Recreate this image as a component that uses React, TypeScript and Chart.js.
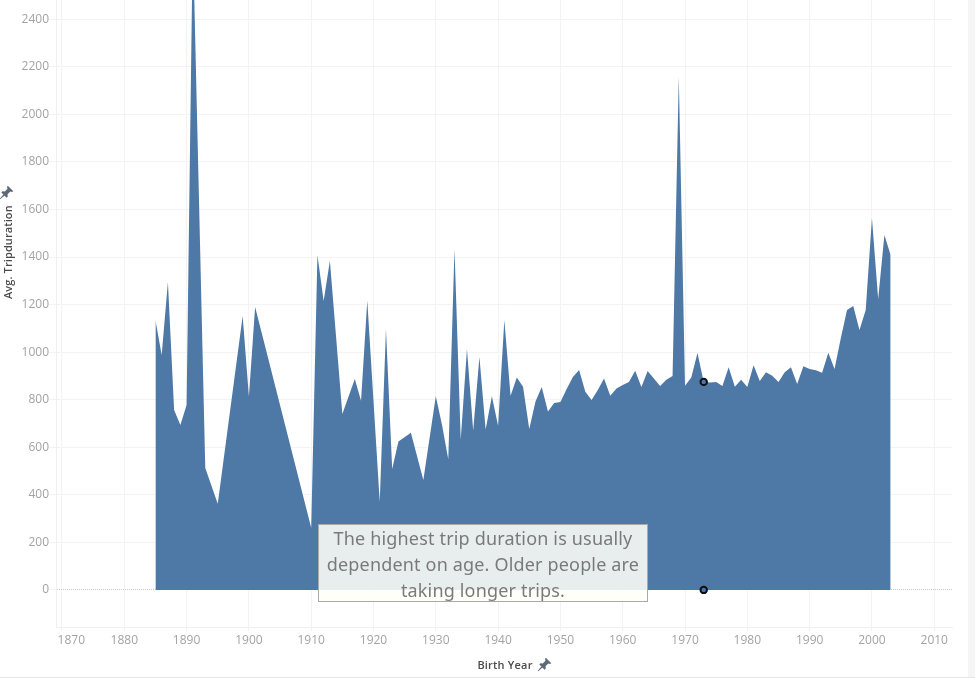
import React, { useEffect, useRef } from 'react';
import { Chart, registerables } from 'chart.js';

Chart.register(...registerables);

// years without riders in the data (1892, 1894, 1896-98, ...) are simply absent
const birthYears = [
  1885, 1886, 1887, 1888, 1889, 1890, 1891, 1893, 1895, 1899, 1900, 1901, 1910, 1911, 1912, 1913,
  1915, 1917, 1918, 1919, 1921, 1922, 1923, 1924, 1926, 1928, 1930, 1931, 1932, 1933, 1934, 1935,
  1936, 1937, 1938, 1939, 1940, 1941, 1942, 1943, 1944, 1945, 1946, 1947, 1948, 1949, 1950, 1951,
  1952, 1953, 1954, 1955, 1956, 1957, 1958, 1959, 1960, 1961, 1962, 1963, 1964, 1965, 1966, 1967,
  1968, 1969, 1970, 1971, 1972, 1973, 1974, 1975, 1976, 1977, 1978, 1979, 1980, 1981, 1982, 1983,
  1984, 1985, 1986, 1987, 1988, 1989, 1990, 1991, 1992, 1993, 1994, 1995, 1996, 1997, 1998, 1999,
  2000, 2001, 2002, 2003,
];

const avgTripduration = [
  1135, 988, 1295, 757, 694, 778, 2750, 513, 362, 1152, 813, 1190, 261, 1409, 1215, 1385,
  740, 887, 796, 1217, 371, 1097, 509, 624, 661, 462, 815, 694, 550, 1435, 633, 1013,
  670, 980, 675, 815, 691, 1135, 817, 893, 855, 677, 792, 853, 750, 786, 790, 845,
  896, 925, 834, 799, 841, 889, 817, 847, 862, 875, 922, 853, 921, 889, 858, 884,
  900, 2160, 859, 893, 996, 875, 872, 875, 858, 937, 855, 884, 853, 945, 879, 916,
  901, 875, 916, 937, 866, 941, 929, 924, 913, 998, 929, 1059, 1177, 1194, 1093, 1177,
  1564, 1224, 1493, 1409,
];

const highlightYears = [1973, 1973];
const highlightValues = [875, 0];

const yearTicks = [1870, 1880, 1890, 1900, 1910, 1920, 1930, 1940, 1950, 1960, 1970, 1980, 1990, 2000, 2010];
const durationTicks = [0, 200, 400, 600, 800, 1000, 1200, 1400, 1600, 1800, 2000, 2200, 2400];

const noteText = 'The highest trip duration is usually dependent on age. Older people are taking longer trips.';

const tickColor = '#a3a3a3';
const gridColor = '#f3f3f3';

const Pin: React.FC<{ style: React.CSSProperties }> = ({ style }) => (
  <svg width="15" height="15" viewBox="0 0 13 13" style={{ position: 'absolute', ...style }}>
    <path d="M7.6 0.6 L12.4 5.4 L11.2 6 L9.8 5.6 L7.4 8 L7.6 10 L6.6 11 L2 6.4 L3 5.4 L5 5.6 L7.4 3.2 L7 1.8 Z M3.8 8.2 L4.8 9.2 L1 12.4 L0.6 12 Z" fill="#5d6878" />
  </svg>
);

const App: React.FC = () => {
  const chartRef = useRef<HTMLCanvasElement>(null);

  useEffect(() => {
    if (!chartRef.current) return;

    const chart = new Chart(chartRef.current, {
      type: 'line',
      data: {
        datasets: [
          {
            data: highlightYears.map((x, i) => ({ x, y: highlightValues[i] })),
            showLine: false,
            pointRadius: 3.2,
            pointBorderWidth: 2,
            pointBackgroundColor: '#4e79a7',
            pointBorderColor: '#0c0f14',
            order: 0,
          },
          {
            data: birthYears.map((x, i) => ({ x, y: avgTripduration[i] })),
            fill: 'origin',
            tension: 0,
            borderWidth: 0,
            pointRadius: 0,
            backgroundColor: '#4e79a7',
            order: 1,
          },
        ],
      },
      options: {
        responsive: false,
        animation: false,
        layout: { autoPadding: false, padding: { top: 0, right: 23, bottom: 0, left: 0 } },
        plugins: { legend: { display: false }, tooltip: { enabled: false } },
        scales: {
          x: {
            type: 'linear',
            min: 1869.04,
            max: 2012.85,
            afterBuildTicks: (scale) => {
              scale.ticks = yearTicks.map((value) => ({ value }));
            },
            afterFit: (scale) => {
              scale.height = 51;
            },
            ticks: {
              autoSkip: false,
              maxRotation: 0,
              padding: 2,
              color: tickColor,
              font: { family: '"Open Sans", sans-serif', size: 12 },
              // the first label sits right of its gridline in the original
              callback: (value) => (value === 1870 ? '      1870' : String(value)),
            },
            grid: { color: gridColor, tickColor: gridColor, tickLength: 4 },
            border: { color: '#f0f0f0' },
          },
          y: {
            min: -156,
            max: 2481,
            afterBuildTicks: (scale) => {
              scale.ticks = durationTicks.map((value) => ({ value }));
            },
            afterFit: (scale) => {
              scale.width = 56;
            },
            ticks: {
              autoSkip: false,
              // padding and lineHeight both push the plot down from the top, so keep them at nothing
              padding: 0,
              color: tickColor,
              font: { family: '"Open Sans", sans-serif', size: 12, lineHeight: 0.01 },
              callback: (value) => String(value),
            },
            grid: {
              color: (ctx) => (ctx.tick?.value === 0 ? '#c8c8c8' : gridColor),
              tickColor: gridColor,
              tickLength: 7,
            },
            border: {
              color: '#f0f0f0',
              dash: (ctx) => (ctx.tick?.value === 0 ? [1, 1] : []),
            },
          },
        },
      },
    });

    return () => {
      chart.destroy();
    };
  }, []);

  return (
    <div style={{ position: 'absolute', left: 0, top: 0, width: 975, height: 678, background: '#fff', overflow: 'hidden' }}>
      <canvas ref={chartRef} width={975} height={678} style={{ display: 'block' }} />

      {/* page edges of the pasted screenshot */}
      <div style={{ position: 'absolute', left: 968, top: 0, width: 7, height: 678, background: '#f5f5f5' }} />
      <div style={{ position: 'absolute', left: 0, top: 677, width: 975, height: 1, background: '#e6e6e6' }} />

      <div
        style={{
          position: 'absolute',
          left: 1,
          top: 204,
          width: 13,
          height: 97,
          writingMode: 'vertical-rl',
          transform: 'rotate(180deg)',
          font: '600 11px "Open Sans", sans-serif',
          letterSpacing: '0.1px',
          color: '#4a4a4a',
          whiteSpace: 'nowrap',
          textAlign: 'center',
          lineHeight: '13px',
        }}
      >
        Avg. Tripduration
      </div>
      <Pin style={{ left: -1, top: 185 }} />

      <div
        style={{
          position: 'absolute',
          left: 470,
          top: 657,
          width: 70,
          textAlign: 'center',
          font: '600 11px "Open Sans", sans-serif',
          letterSpacing: '0.2px',
          color: '#4a4a4a',
          whiteSpace: 'nowrap',
          lineHeight: '16px',
        }}
      >
        Birth Year
      </div>
      <Pin style={{ left: 537, top: 657 }} />

      <div
        style={{
          position: 'absolute',
          left: 318,
          top: 524,
          width: 330,
          height: 78,
          boxSizing: 'border-box',
          border: '1px solid #a9abaa',
          background: 'rgba(255,255,248,0.87)',
          color: '#7a7a7a',
          font: '18px "Noto Sans", sans-serif',
          lineHeight: '26px',
          textAlign: 'center',
          padding: '0 6px',
          letterSpacing: '0.17px',
        }}
      >
        {noteText}
      </div>
    </div>
  );
};

export default App;
